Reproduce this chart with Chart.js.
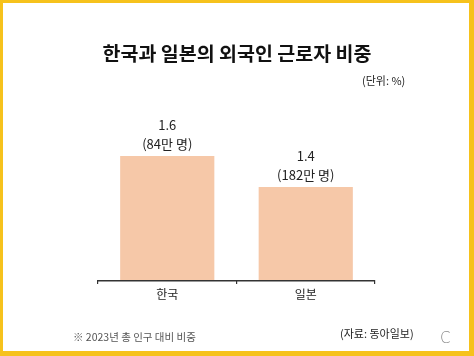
<!DOCTYPE html>
<html><head><meta charset="utf-8">
<script src="https://cdn.jsdelivr.net/npm/chart.js@4"></script>
<style>
html,body{margin:0;padding:0;background:#fff;}
#frame{position:absolute;left:0;top:0;width:474px;height:356px;box-sizing:border-box;border-style:solid;border-color:#F6C21C;border-width:3px 5px 5px 3px;}
#wrap{position:absolute;left:0;top:0;width:474px;height:356px;}
.t{position:absolute;font-family:"Noto Sans CJK KR","Noto Sans",sans-serif;white-space:nowrap;}
#title{left:0;width:474px;text-align:center;top:38px;font-size:19.5px;font-weight:700;color:#111;line-height:30px;}
#unit{left:362px;top:72px;font-size:11px;color:#222;line-height:16px;}
#note{left:73px;top:329px;font-size:10.5px;color:#555;line-height:16px;}
#src{left:340px;top:325px;font-size:11px;color:#222;line-height:16px;}
#c{left:440px;top:328px;font-size:15px;color:#888;line-height:20px;font-family:"DejaVu Sans",sans-serif;font-weight:300;}
</style></head>
<body>
<div id="wrap"><canvas id="chart" width="474" height="356"></canvas></div>
<div id="frame"></div>
<div class="t" id="title">한국과 일본의 외국인 근로자 비중</div>
<div class="t" id="unit">(단위: %)</div>
<div class="t" id="note">※ 2023년 총 인구 대비 비중</div>
<div class="t" id="src">(자료: 동아일보)</div>
<div class="t" id="c">C</div>
<script>
const categories = ['한국', '일본'];
const shares = [1.6, 1.4];
const valueLabels = ['1.6', '1.4'];
const countLabels = ['(84만 명)', '(182만 명)'];

const labelPlugin = {
  id: 'barLabels',
  afterDatasetsDraw(chart) {
    const ctx = chart.ctx;
    const meta = chart.getDatasetMeta(0);
    const xs = chart.scales.x;
    ctx.save();
    ctx.strokeStyle = '#333';
    ctx.lineWidth = 1.5;
    ctx.beginPath();
    ctx.moveTo(xs.left, chart.chartArea.bottom + 0.75);
    ctx.lineTo(xs.right, chart.chartArea.bottom + 0.75);
    ctx.stroke();
    ctx.fillStyle = '#222';
    ctx.textAlign = 'center';
    ctx.textBaseline = 'middle';
    ctx.font = '13px "Noto Sans CJK KR", "Noto Sans", sans-serif';
    meta.data.forEach((bar, i) => {
      ctx.fillText(valueLabels[i], bar.x, bar.y - 31);
      ctx.fillText(countLabels[i], bar.x, bar.y - 12);
    });
    ctx.restore();
  }
};

new Chart(document.getElementById('chart'), {
  type: 'bar',
  data: {
    labels: categories,
    datasets: [{
      data: shares,
      backgroundColor: '#F6C8A8',
      borderWidth: 0,
      barPercentage: 1,
      categoryPercentage: 0.68,
      clip: { left: 0, right: 0, top: 0, bottom: 1 }
    }]
  },
  options: {
    responsive: false,
    animation: false,
    devicePixelRatio: 1,
    layout: { padding: { left: 98, right: 99, top: 94, bottom: 51.6 } },
    plugins: { legend: { display: false }, tooltip: { enabled: false }, title: { display: false } },
    scales: {
      x: {
        grid: { display: true, drawOnChartArea: false, drawTicks: true, tickLength: 4, color: '#333', lineWidth: 1.2, offset: true },
        border: { display: false },
        ticks: { color: '#222', padding: 3, font: { family: '"Noto Sans CJK KR", "Noto Sans", sans-serif', size: 12 } }
      },
      y: { display: false, min: 0.8, max: 2.0 }
    }
  },
  plugins: [labelPlugin]
});
</script>
</body></html>
